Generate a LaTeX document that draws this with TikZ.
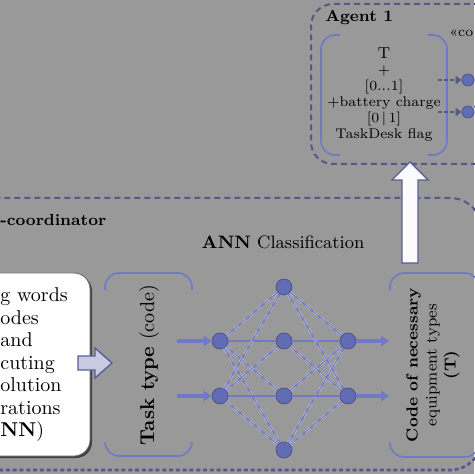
\documentclass[tikz,border=0pt]{standalone}
\usepackage{fontspec}
\usetikzlibrary{positioning, arrows.meta, calc}

\definecolor{bggray}{RGB}{153,153,153}
\definecolor{dashc}{RGB}{84,88,138}
\definecolor{brkc}{RGB}{112,120,200}
\definecolor{neuc}{RGB}{98,108,180}
\definecolor{linkc}{RGB}{112,120,200}
\definecolor{lavc}{RGB}{200,202,228}

\begin{document}
\begin{tikzpicture}[
  x=0.5pt, y=-0.5pt,
  dashbox/.style={draw=dashc, line width=1pt, dash pattern=on 3pt off 2pt},
  bracket/.style={draw=brkc, line width=0.8pt, rounded corners=7pt},
  neuron/.style={circle, fill=neuc, draw=neuc!70!black, line width=0.3pt,
    minimum size=8pt, inner sep=0pt},
  link/.style={draw=linkc, line width=0.6pt,
    preaction={draw=white!65!linkc, line width=1.1pt, dash pattern=on 3pt off 2pt}},
  feed/.style={-{Triangle[length=4pt,width=5pt]}, line width=1.6pt, draw=linkc},
  agarrow/.style={-{Triangle[length=3pt,width=4pt]}, line width=1.3pt, draw=dashc,
    dash pattern=on 2pt off 1pt},
  blockarrow/.style={draw=dashc!80!brkc, line width=0.7pt, line join=miter},
  title/.style={font=\footnotesize\bfseries, inner sep=0pt}
]
\useasboundingbox (0,0) rectangle (474,474);
\fill[bggray] (0,0) rectangle (474,474);

% agent-coordinator frame
\draw[dashbox, rounded corners=16pt] (482,330) -- (482,198) -- (-10,198);
\draw[dashbox, rounded corners=16pt, dash pattern=on 2pt off 1.4pt, line width=1.3pt]
  (482,330) -- (482,470) -- (-10,470);
\node[title, anchor=west] (coordlbl) at (0,220) {-coordinator};

% agent 1 frame
\draw[dashbox, rounded corners=11pt] (520,4) -- (311,4) -- (311,164) -- (520,164);
\node[title, anchor=west] (agentlbl) at (325,18) {Agent 1};
\node[font=\scriptsize, anchor=west, inner sep=0pt] (colbl) at (449,33) {«co};

\draw[bracket] (340,35) -- (321,35) -- (321,155) -- (340,155);
\draw[bracket] (428,35) -- (447,35) -- (447,155) -- (428,155);
\node[align=center, font=\scriptsize, inner sep=0pt] (agtext) at (384,95)
  {\footnotesize T\\+\\{[0...1]}\\+battery charge\\{[0\,|\,1]}\\TaskDesk flag};

\node[neuron, minimum size=6pt] (ao1) at (468,80) {};
\node[neuron, minimum size=6pt] (ao2) at (468,112) {};
\coordinate (as1) at (438,80);
\coordinate (as2) at (438,112);
\coordinate (aout) at (492,92);
\draw[agarrow] (as1) -- (ao1);
\draw[agarrow] (as2) -- (ao2);
\draw[link] (ao2) -- (aout);

% input text box
\fill[black!75, rounded corners=8pt] (-30,275) rectangle (92,458);
\filldraw[fill=white, draw=black!60, line width=0.4pt, rounded corners=8pt] (-30,273) rectangle (90,456);
\node[align=left, anchor=west, inner sep=0pt, font={\fontsize{10}{11.25}\selectfont}] (wtext) at (0,365)
  {g words\\odes\\and\\cuting\\olution\\rations\\\textbf{NN})};

\filldraw[blockarrow, fill=lavc] (78,356) -- (95,356) -- (95,348) -- (112,363)
  -- (95,378) -- (95,370) -- (78,370) -- cycle;

% task type
\draw[bracket] (105,290) -- (105,273) -- (192,273) -- (192,290);
\draw[bracket] (105,442) -- (105,456) -- (192,456) -- (192,442);
\node[rotate=90, inner sep=0pt] (task) at (149,365) {\textbf{Task type} (code)};

% ANN
\node[font=\small, inner sep=0pt] (annlbl) at (283,242) {\textbf{ANN} Classification};

\node[neuron] (i1) at (220,341) {};
\node[neuron] (i2) at (220,396) {};
\node[neuron] (h1) at (284,287) {};
\node[neuron] (h2) at (284,341) {};
\node[neuron] (h3) at (284,396) {};
\node[neuron] (h4) at (284,450) {};
\node[neuron] (o1) at (348,341) {};
\node[neuron] (o2) at (348,396) {};

\foreach \i in {1,2}
  \foreach \h in {1,...,4} {
    \draw[link] (i\i) -- (h\h);
    \draw[link] (h\h) -- (o\i);
  }

\coordinate (in1) at (177,341);
\coordinate (in2) at (177,396);
\coordinate (out1) at (389,341);
\coordinate (out2) at (389,396);
\draw[feed] (in1) -- (i1);
\draw[feed] (in2) -- (i2);
\draw[feed] (o1) -- (out1);
\draw[feed] (o2) -- (out2);

% equipment types
\draw[bracket] (390,290) -- (390,273) -- (479,273) -- (479,290);
\draw[bracket] (390,442) -- (390,457) -- (479,457) -- (479,442);
\node[rotate=90, align=center, font=\footnotesize, inner sep=0pt] (equip) at (433,365)
  {\textbf{Code of necessary}\\equipment types\\\textbf{(T)}};

\filldraw[blockarrow, fill=white!93!lavc] (402,263) -- (402,180) -- (392,180) -- (410,162)
  -- (428,180) -- (418,180) -- (418,263) -- cycle;

\end{tikzpicture}
\end{document}
